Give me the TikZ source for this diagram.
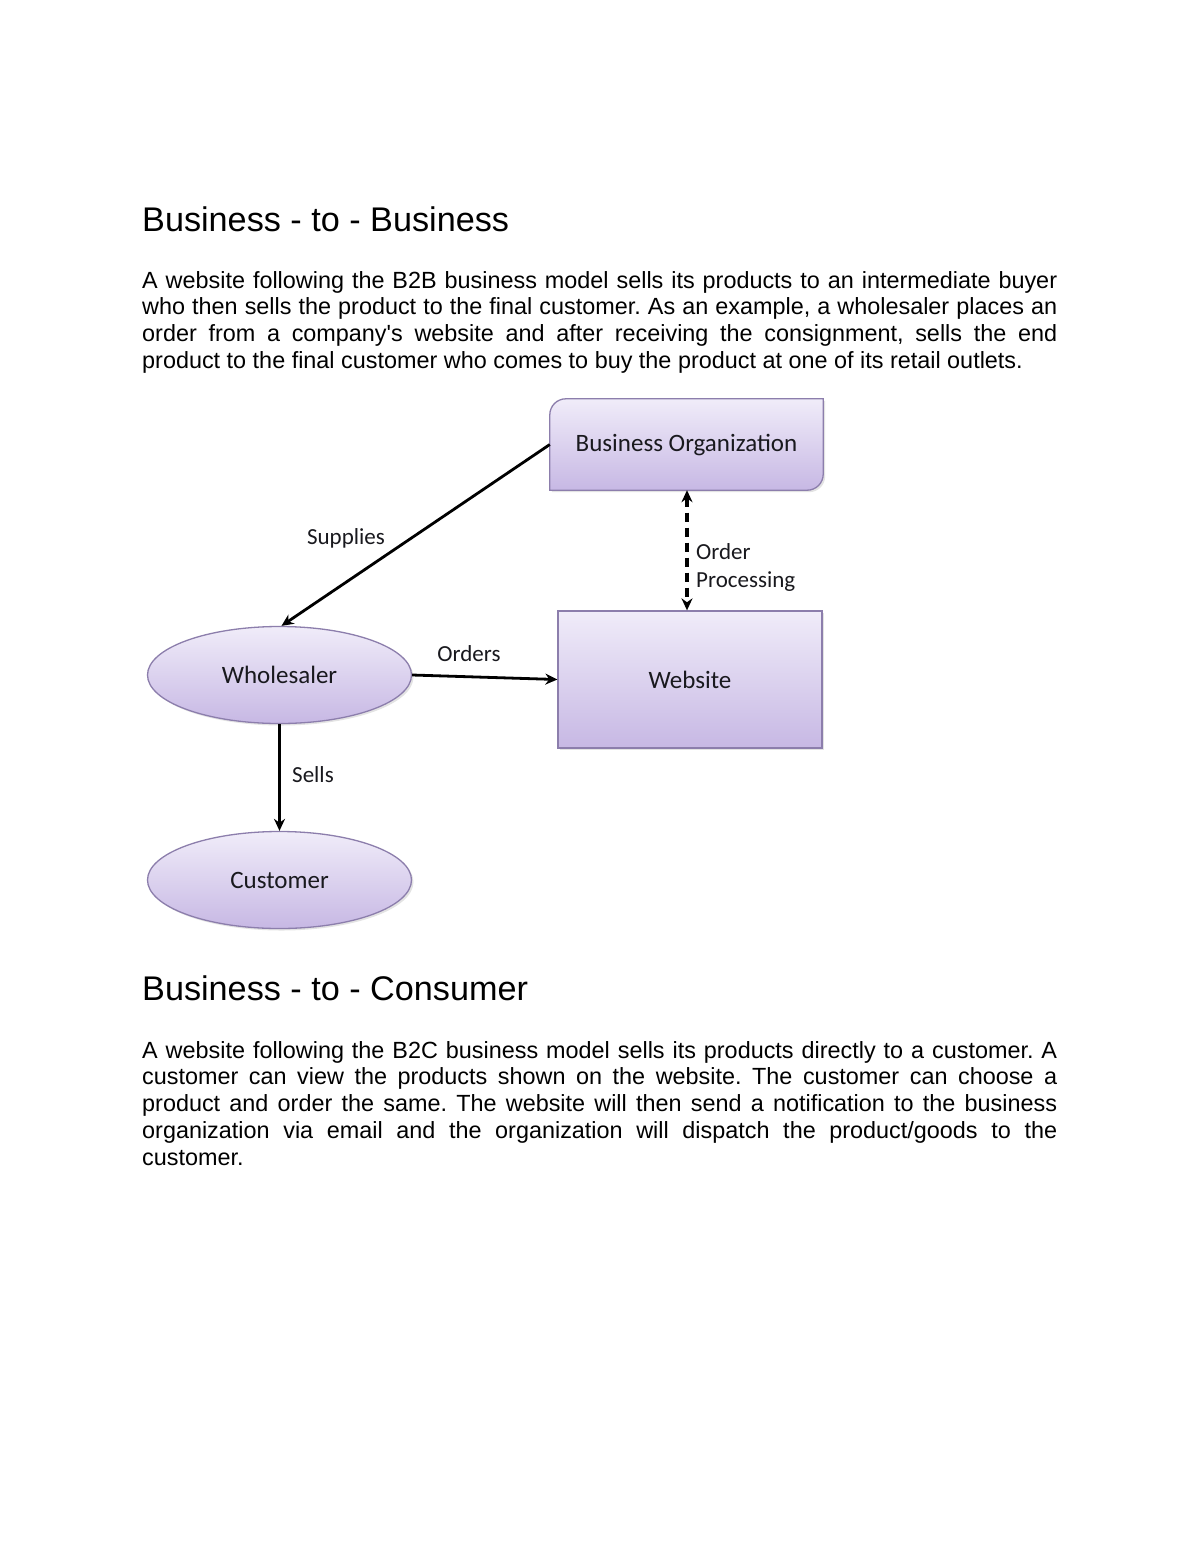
\documentclass[tikz,border=0pt]{standalone}
\usepackage{fontspec}
\setmainfont{Liberation Sans}
\newfontfamily\diagfont{Carlito}
\usepackage{tikz}
\usepackage{xcolor}
\usetikzlibrary{arrows.meta,shapes.geometric,shadows}
\definecolor{boxtop}{RGB}{240,236,249}
\definecolor{boxbot}{RGB}{199,184,228}
\definecolor{boxedge}{RGB}{140,126,172}
\definecolor{labelink}{RGB}{25,25,30}
\tikzset{
  purplebox/.style={draw=boxedge,line width=1.3pt,top color=boxtop,bottom color=boxbot,
    drop shadow={opacity=0.22,shadow xshift=2pt,shadow yshift=-2pt}},
  nodetext/.style={font=\diagfont\fontsize{25}{28}\selectfont,text=labelink},
  linklabel/.style={font=\diagfont\fontsize{23}{28}\selectfont,text=labelink},
  flow/.style={line width=2.8pt,-{Stealth[length=12pt,width=11pt]}},
  heading/.style={anchor=base west,inner sep=0pt,font=\fontsize{34.2}{40}\selectfont},
  bodytext/.style={anchor=base west,inner sep=0pt,text width=915pt,align=justify,
    font=\fontsize{23.4}{26.9}\selectfont\frenchspacing}
}
\begin{document}
\begin{tikzpicture}[x=1pt,y=-1pt]
\useasboundingbox (0,0) rectangle (1200,1553);
\fill[white] (0,0) rectangle (1200,1553);
% first section
\node (h1) at (142,231) [heading] {Business - to - Business};
\node (p1) at (142,288) [bodytext] {A website following the B2B business model sells its products to an intermediate buyer\linebreak
who then sells the product to the final customer. As an example, a wholesaler places an\linebreak
order from a company\textquotesingle s website and after receiving the consignment, sells the end\linebreak
product to the final customer who comes to buy the product at one of its retail outlets.};
% diagram
\node (bo) at (686.5,444.5) [rectangle,minimum width=273pt,minimum height=91pt,inner sep=0pt] {};
\path[purplebox] (bo.south west) -- ([yshift=-16pt]bo.north west) arc (180:90:16pt)
  -- (bo.north east) -- ([yshift=16pt]bo.south east) arc (0:-90:16pt) -- cycle;
\node at (bo.center) [nodetext] {Business Organization};
\node (web) at (690,679.5) [rectangle,purplebox,minimum width=264pt,minimum height=137pt,nodetext] {Website};
\node (whole) at (279.5,675) [ellipse,purplebox,minimum width=264pt,minimum height=97pt,inner sep=0pt,nodetext] {Wholesaler};
\node (cust) at (279.5,880) [ellipse,purplebox,minimum width=264pt,minimum height=97pt,inner sep=0pt,nodetext] {Customer};
\draw[flow] (bo.west) -- ([xshift=2pt]whole.north);
\draw[flow] (whole.east) -- (web.west);
\draw[flow] (whole.south) -- (cust.north);
\draw[line width=3.2pt,dash pattern=on 9pt off 6pt,{Stealth[length=12pt,width=11pt]}-{Stealth[length=12pt,width=11pt]}]
  ([xshift=0.5pt]bo.south) -- ([xshift=-3pt]web.north);
\node (sup) at (346,538) [linklabel] {Supplies};
\node (ord) at (469,654) [linklabel] {Orders};
\node (sel) at (313,775) [linklabel] {Sells};
\node (proc) at (696,567) [linklabel,anchor=west,align=left,inner sep=0pt] {Order\\Processing};
% second section
\node (h2) at (142,1000) [heading] {Business - to - Consumer};
\node (p2) at (142,1058) [bodytext] {A website following the B2C business model sells its products directly to a customer. A\linebreak
customer can view the products shown on the website. The customer can choose a\linebreak
product and order the same. The website will then send a notification to the business\linebreak
organization via email and the organization will dispatch the product/goods to the\linebreak
customer.};
\end{tikzpicture}
\end{document}
